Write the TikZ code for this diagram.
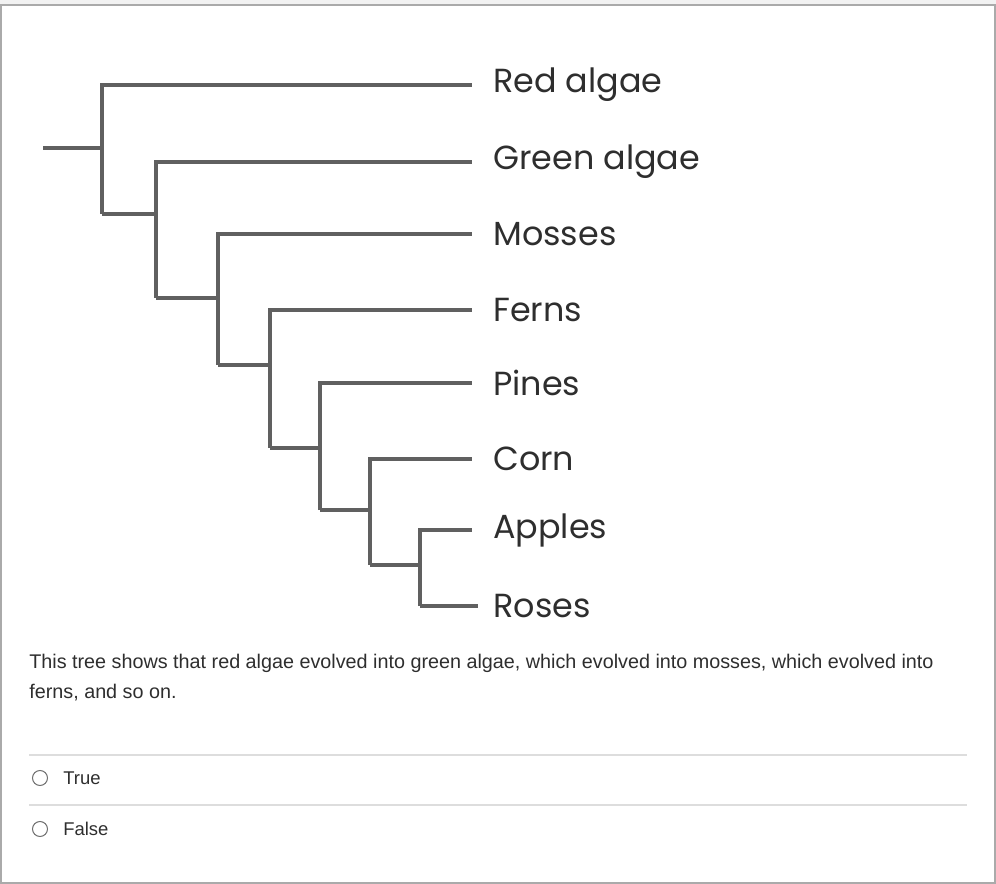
\documentclass[tikz,border=0pt]{standalone}
\usepackage{fontspec}
\setmainfont{Liberation Sans}
\newfontfamily\handfont{Poppins}
\usetikzlibrary{positioning}

\definecolor{branchgray}{HTML}{606060}
\definecolor{inkgray}{HTML}{2E2E2E}
\definecolor{framegray}{HTML}{AAAAAA}
\definecolor{rulegray}{HTML}{DDDDDD}
\definecolor{stripgray}{HTML}{F2F2F2}
\definecolor{radiogray}{HTML}{707070}

\begin{document}
\begin{tikzpicture}[
    x=0.02cm,
    y=-0.02cm,
    branch/.style={draw=branchgray, line width=2.3pt},
    tip/.style={branch, shorten >=0.42cm},
    taxon/.style={anchor=west, inner sep=0pt, text=inkgray,
        font=\handfont\fontsize{19}{21}\selectfont},
    question/.style={anchor=west, inner sep=0pt, text=inkgray,
        font=\fontsize{11.25}{13}\selectfont},
    radio/.style={circle, draw=radiogray, line width=0.6pt,
        minimum size=0.3cm, inner sep=0pt},
    choice/.style={inner sep=0pt, text=inkgray,
        font=\fontsize{10.5}{12}\selectfont},
    separator/.style={draw=rulegray, line width=1pt},
]

    \useasboundingbox (0,0) rectangle (996,884);

    % card frame
    \fill[stripgray] (0,0) rectangle (996,4);
    \draw[framegray, line width=0.04cm] (1,5) rectangle (995,883);

    % taxa
    \node[taxon] (red)    at (493, 85) {Red algae};
    \node[taxon] (green)  at (493,162) {Green algae};
    \node[taxon] (mosses) at (493,234) {Mosses};
    \node[taxon] (ferns)  at (493,310) {Ferns};
    \node[taxon] (pines)  at (493,383) {Pines};
    \node[taxon] (corn)   at (493,459) {Corn};
    \node[taxon] (apples) at (493,530) {Apples};
    \node[taxon] (roses)  at (493,606) {Roses};

    % lower corner of each clade
    \coordinate (root) at ( 43,148);
    \coordinate (c1)   at (102,214);
    \coordinate (c2)   at (156,298);
    \coordinate (c3)   at (218,365);
    \coordinate (c4)   at (270,448);
    \coordinate (c5)   at (320,510);
    \coordinate (c6)   at (370,565);
    \coordinate (c7)   at (420,606);

    \draw[branch] (root) -- (root -| c1);
    \foreach \lo/\hi/\leaf in {c1/c2/red, c2/c3/green, c3/c4/mosses,
                               c4/c5/ferns, c5/c6/pines, c6/c7/corn} {
        \draw[tip]    (\lo) |- (\leaf);
        \draw[branch] (\lo) -- (\lo -| \hi);
    }
    \draw[tip] (c7) |- (apples);
    \draw[branch, shorten >=0.3cm] (c7) -- (roses);

    % statement
    \node[question] (line1) at (29,663)
        {This tree shows that red algae evolved into green algae, which evolved into mosses, which evolved into};
    \node[question] (line2) at (29,693) {ferns, and so on.};

    % answers
    \draw[separator] (29,755) -- (967,755);
    \node[radio] (rtrue) at (40,778) {};
    \node[choice, right=0.3cm of rtrue] (ttrue) {True};
    \draw[separator] (29,805) -- (967,805);
    \node[radio] (rfalse) at (40,829) {};
    \node[choice, right=0.3cm of rfalse] (tfalse) {False};

\end{tikzpicture}
\end{document}
